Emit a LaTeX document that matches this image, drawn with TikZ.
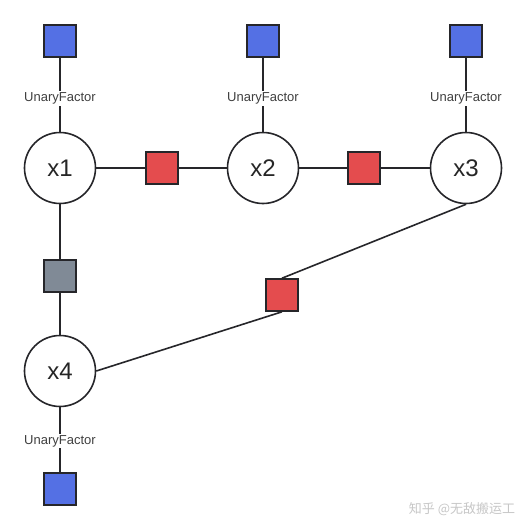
\documentclass[tikz,border=0pt]{standalone}
\usepackage{fontspec}
\setmainfont{Liberation Sans}
\newfontfamily\cjkfont{Noto Sans CJK SC}
\definecolor{unaryblue}{RGB}{84,112,228}
\definecolor{factorred}{RGB}{228,76,78}
\definecolor{factorgrey}{RGB}{128,138,150}
\definecolor{edgedark}{RGB}{38,38,42}
\begin{document}
\begin{tikzpicture}[x=1pt,y=-1pt,
    var/.style={circle,draw=edgedark,fill=white,line width=1.6pt,minimum size=71pt,inner sep=0pt,
                font=\fontsize{24}{24}\selectfont,text=black!85},
    fac/.style={rectangle,draw=edgedark,line width=1.6pt,minimum size=32pt,inner sep=0pt},
    lbl/.style={fill=white,inner sep=1.5pt,font=\fontsize{13}{13}\selectfont,text=black!75}]
    \fill [white] (0,0) rectangle (526,531);
    \useasboundingbox (0,0) rectangle (526,531);

    % variables
    \node [var] (x1) at (60,168) {x1};
    \node [var] (x2) at (263,168) {x2};
    \node [var] (x3) at (466,168) {x3};
    \node [var] (x4) at (60,371) {x4};

    % factors
    \node [fac,fill=factorred] (f12) at (162,168) {};
    \node [fac,fill=factorred] (f23) at (364,168) {};
    \node [fac,fill=factorgrey] (f14) at (60,276) {};
    \node [fac,fill=factorred] (f34) at (282,295) {};

    \node [fac,fill=unaryblue] (u1) at (60,41) {};
    \node [fac,fill=unaryblue] (u2) at (263,41) {};
    \node [fac,fill=unaryblue] (u3) at (466,41) {};
    \node [fac,fill=unaryblue] (u4) at (60,489) {};

    % edges
    \begin{scope}[edgedark,line width=1.6pt]
        \draw (x1) -- (f12) -- (x2) -- (f23) -- (x3);
        \draw (x1) -- (f14) -- (x4);
        \draw (x3.south) -- (f34.north);
        \draw (f34.south) -- (x4.east);
        \draw (u1) -- node [lbl,pos=0.55] {UnaryFactor} (x1);
        \draw (u2) -- node [lbl,pos=0.55] {UnaryFactor} (x2);
        \draw (u3) -- node [lbl,pos=0.55] {UnaryFactor} (x3);
        \draw (x4) -- node [lbl,pos=0.52] {UnaryFactor} (u4);
    \end{scope}

    \node [font=\cjkfont\fontsize{13}{13}\selectfont,text=black!22] (mark) at (462,509) {知乎 @无敌搬运工};
\end{tikzpicture}
\end{document}
